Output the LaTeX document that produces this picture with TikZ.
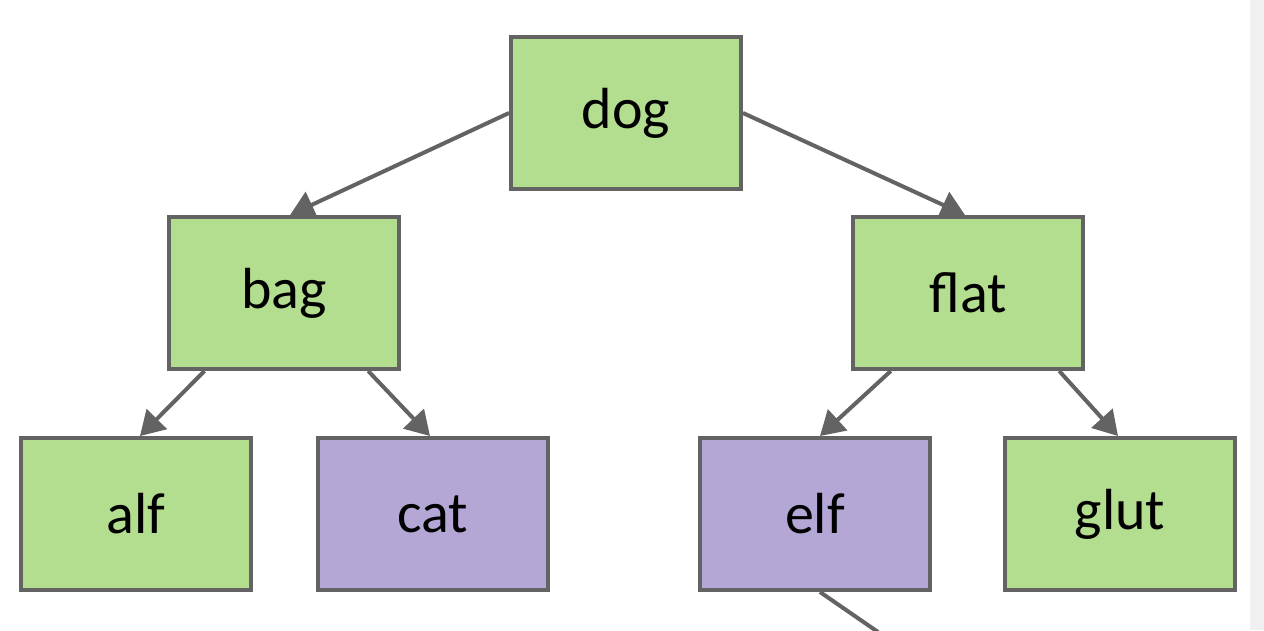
\documentclass[tikz,border=0pt]{standalone}
\usepackage{fontspec}
\setmainfont{Carlito}
\usetikzlibrary{arrows.meta,calc}
\definecolor{gfill}{HTML}{B3DD8F}
\definecolor{pfill}{HTML}{B4A7D6}
\definecolor{edge}{HTML}{636363}
\begin{document}
\begin{tikzpicture}[x=1pt,y=-1pt,
  box/.style={draw=edge,line width=4pt,minimum width=230pt,minimum height=152pt,inner sep=0pt,font=\fontsize{58}{60}\selectfont},
  gbox/.style={box,fill=gfill},
  pbox/.style={box,fill=pfill},
  conn/.style={draw=edge,line width=4pt,-{Triangle[length=24pt,width=28pt]}}]
\useasboundingbox (0,0) rectangle (1264,630);
\fill[white] (0,0) rectangle (1264,630);
\fill[black!6] (1250,0) rectangle (1264,630);
\node[gbox] (dog) at (626,113) {dog};
\node[gbox] (bag) at (284,293) {bag};
\node[gbox] (flat) at (968,293) {flat};
\node[gbox] (alf) at (136,514) {alf};
\node[pbox] (cat) at (433,514) {cat};
\node[pbox] (elf) at (815,514) {elf};
\node[gbox] (glut) at (1120,514) {glut};
\coordinate (off) at (878,632);
\draw[conn] (dog.west) -- ($(bag.north)+(6,0)$);
\draw[conn] (dog.east) -- ($(flat.north)+(-3,0)$);
\draw[conn] ($(bag.south west)!0.16!(bag.south east)$) -- ($(alf.north)+(4,0)$);
\draw[conn] ($(bag.south west)!0.86!(bag.south east)$) -- ($(cat.north)+(-3,0)$);
\draw[conn] ($(flat.south west)!0.17!(flat.south east)$) -- ($(elf.north)+(5,0)$);
\draw[conn] ($(flat.south west)!0.89!(flat.south east)$) -- ($(glut.north)+(-2,0)$);
\draw[draw=edge,line width=4pt] ($(elf.south)+(5,0)$) -- (off);
\end{tikzpicture}
\end{document}
